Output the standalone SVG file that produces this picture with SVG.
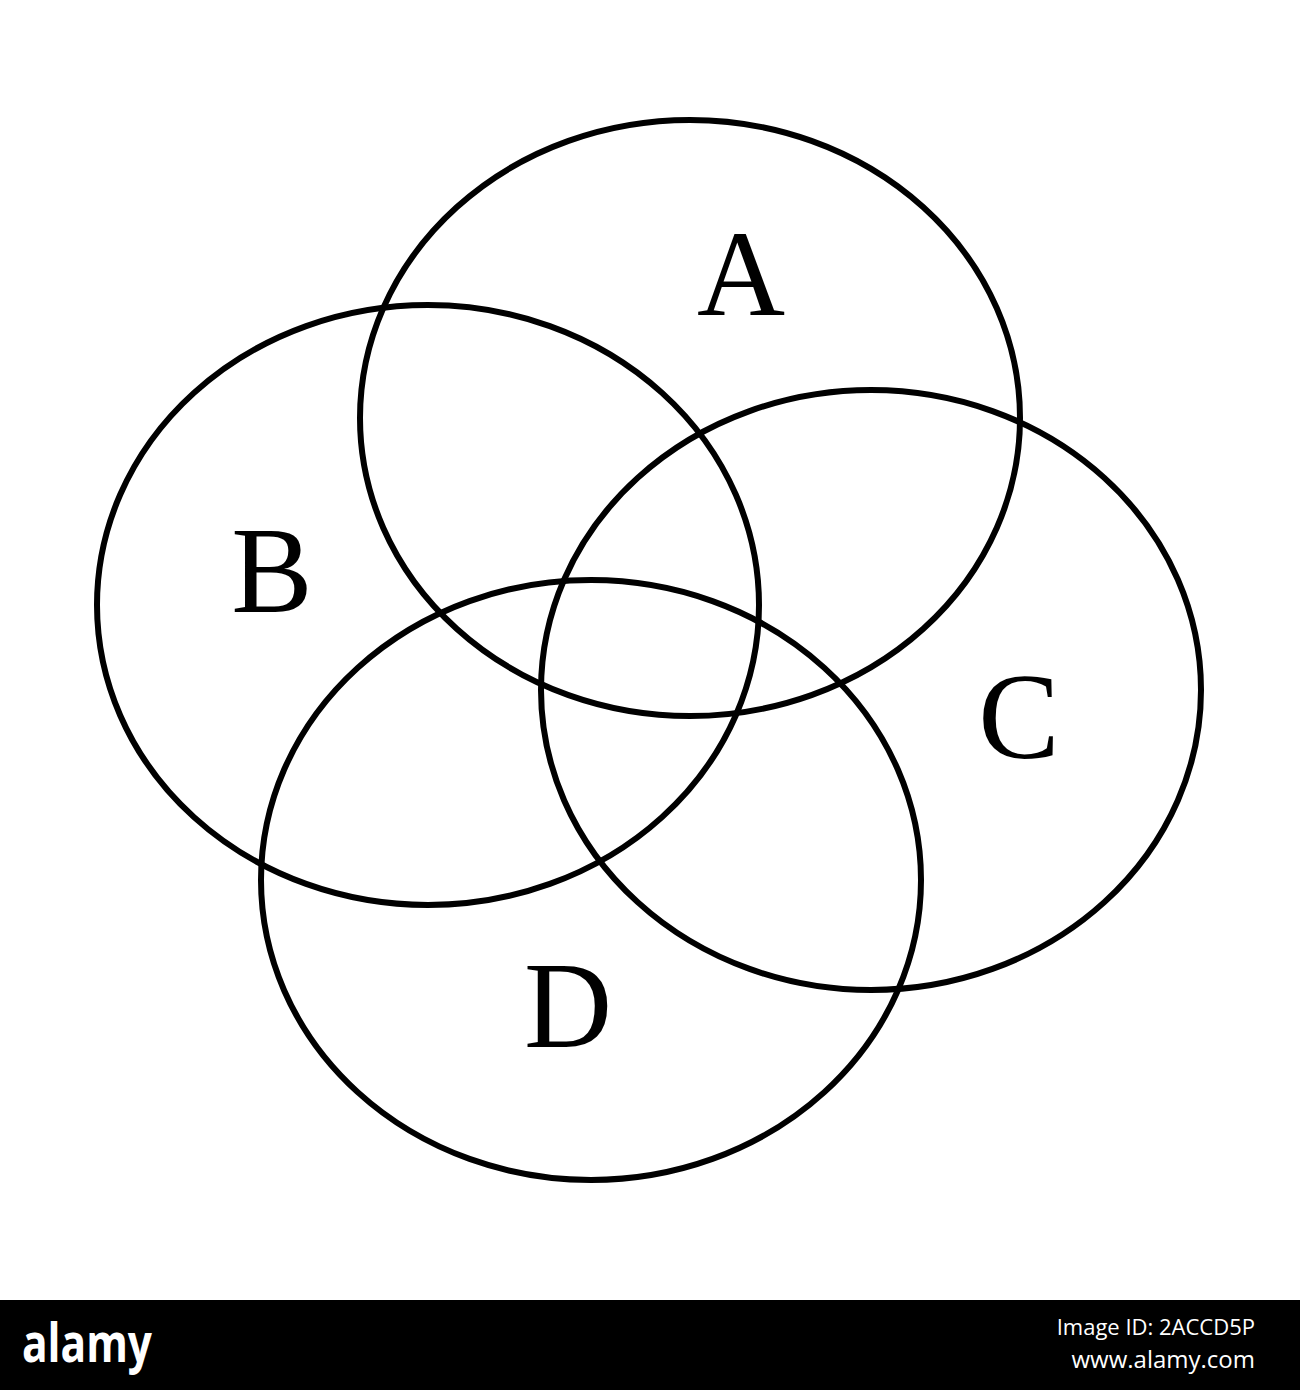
<svg xmlns="http://www.w3.org/2000/svg" width="1300" height="1390" viewBox="0 0 1300 1390">
<style>
.set{fill:none;stroke:#000;stroke-width:6}
.lbl{font-family:"Liberation Serif","DejaVu Serif",serif;font-size:122px;fill:#000;text-anchor:middle}
.wm{font-family:"Open Sans","DejaVu Sans Condensed",sans-serif;fill:#fff}
</style>
<rect width="1300" height="1390" fill="#fff"/>
<g id="A"><ellipse class="set" cx="690" cy="418" rx="330" ry="298"/><text class="lbl" x="741" y="315">A</text></g>
<g id="B"><ellipse class="set" cx="428" cy="605" rx="331" ry="300"/><text class="lbl" x="272" y="612">B</text></g>
<g id="C"><ellipse class="set" cx="871" cy="690" rx="330" ry="300"/><text class="lbl" x="1019" y="758">C</text></g>
<g id="D"><ellipse class="set" cx="591" cy="880" rx="330" ry="300"/><text class="lbl" x="568" y="1047">D</text></g>
<g id="connectors"></g>
<g id="watermark">
<rect x="0" y="1300" width="1300" height="90" fill="#000"/>
<text class="wm" x="22" y="1362" font-size="54" font-weight="bold" textLength="130" lengthAdjust="spacingAndGlyphs">alamy</text>
<text class="wm" x="1255" y="1335" font-size="22" text-anchor="end">Image ID: 2ACCD5P</text>
<text class="wm" x="1255" y="1368" font-size="24" text-anchor="end">www.alamy.com</text>
</g>
</svg>
